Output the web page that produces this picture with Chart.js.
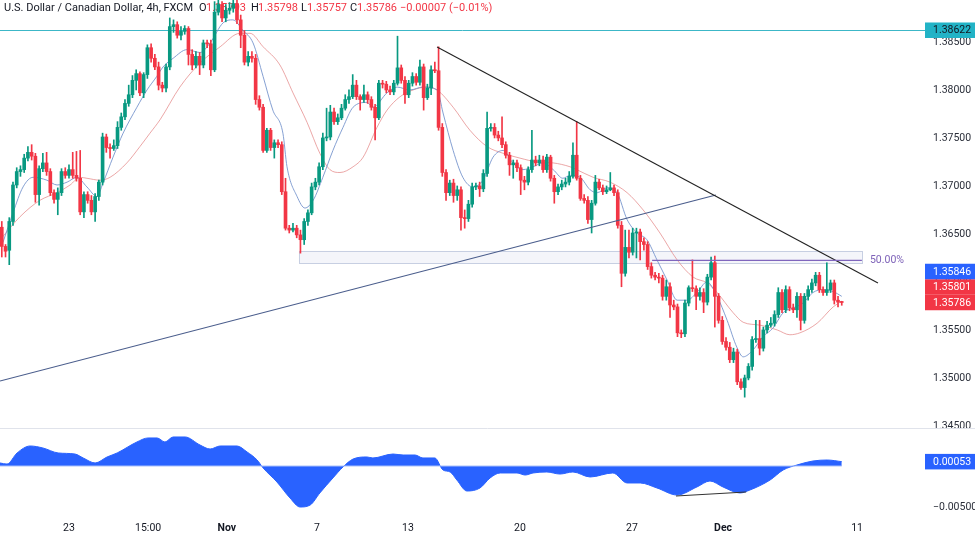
<!DOCTYPE html>
<html>
<head>
<meta charset="utf-8">
<script src="https://cdn.jsdelivr.net/npm/chart.js@4.4.1/dist/chart.umd.min.js"></script>
<style>
  html, body { margin: 0; padding: 0; background: #fff; }
  #wrap { position: relative; width: 975px; height: 534px; }
</style>
</head>
<body>
<div id="wrap"><canvas id="chart" width="975" height="534"></canvas></div>
<script>
// USDCAD 4h candles, index 0 = first visible bar (Oct 20)
const opens = [
  1.3657,1.3637,1.3633,1.3663,1.3701,1.3715,1.3717,1.3729,1.3735,1.3731,
  1.3691,1.3718,1.3724,1.3715,1.3693,1.3686,1.3693,1.3715,1.3711,1.3717,
  1.3711,1.3708,1.3673,1.3691,1.3685,1.3673,1.3689,1.3704,1.3751,1.3740,
  1.3739,1.3742,1.3761,1.3772,1.3786,1.3795,1.3810,1.3817,1.3797,1.3816,
  1.3844,1.3833,1.3824,1.3805,1.3802,1.3824,1.3866,1.3868,1.3857,1.3861,
  1.3864,1.3837,1.3826,1.3835,1.3826,1.3849,1.3848,1.3821,1.3881,1.3889,
  1.3875,1.3883,1.3885,1.3890,1.3873,1.3857,1.3829,1.3835,1.3833,1.3790,
  1.3782,1.3737,1.3758,1.3740,1.3745,1.3743,1.3694,1.3656,1.3654,1.3656,
  1.3649,1.3644,1.3663,1.3672,1.3699,1.3704,1.3720,1.3750,1.3751,1.3777,
  1.3767,1.3771,1.3781,1.3790,1.3793,1.3805,1.3793,1.3790,1.3795,1.3790,
  1.3782,1.3771,1.3807,1.3806,1.3800,1.3798,1.3807,1.3823,1.3810,1.3795,
  1.3807,1.3814,1.3808,1.3824,1.3792,1.3802,1.3821,1.3820,1.3761,1.3714,
  1.3693,1.3703,1.3690,1.3696,1.3667,1.3666,1.3681,1.3699,1.3700,1.3697,
  1.3713,1.3760,1.3761,1.3753,1.3750,1.3743,1.3732,1.3722,1.3724,1.3719,
  1.3706,1.3704,1.3717,1.3727,1.3724,1.3727,1.3717,1.3730,1.3708,1.3694,
  1.3699,1.3702,1.3704,1.3710,1.3732,1.3708,1.3687,1.3685,1.3665,1.3682,
  1.3704,1.3698,1.3694,1.3696,1.3698,1.3693,1.3659,1.3609,1.3636,1.3631,
  1.3651,1.3652,1.3642,1.3639,1.3616,1.3607,1.3605,1.3604,1.3585,1.3595,
  1.3576,1.3574,1.3547,1.3546,1.3578,1.3594,1.3593,1.3585,1.3589,1.3579,
  1.3605,1.3620,1.3585,1.3560,1.3538,1.3532,1.3519,1.3527,1.3496,1.3490,
  1.3500,1.3512,1.3540,1.3541,1.3531,1.3550,1.3555,1.3557,1.3566,1.3589,
  1.3571,1.3592,1.3573,1.3571,1.3585,1.3560,1.3585,1.3592,1.3599,1.3607,
  1.3592,1.3589,1.3592,1.3599,1.3581,1.35793
];
const highs = [
  1.3663,1.3639,1.3667,1.3704,1.3719,1.3721,1.3733,1.3741,1.3743,1.3734,
  1.3721,1.3734,1.3735,1.3718,1.3696,1.3698,1.3718,1.3719,1.3722,1.3735,
  1.3736,1.3737,1.3694,1.3694,1.3690,1.3692,1.3706,1.3755,1.3754,1.3744,
  1.3748,1.3767,1.3776,1.3790,1.3805,1.3815,1.3821,1.3819,1.3818,1.3847,
  1.3848,1.3837,1.3829,1.3808,1.3827,1.3875,1.3873,1.3871,1.3866,1.3867,
  1.3866,1.3842,1.3840,1.3839,1.3852,1.3852,1.3852,1.3892,1.3894,1.3892,
  1.3889,1.3891,1.3896,1.3894,1.3878,1.3862,1.3840,1.3840,1.3837,1.3794,
  1.3785,1.3760,1.3760,1.3748,1.3748,1.3746,1.3708,1.3659,1.3661,1.3659,
  1.3654,1.3666,1.3675,1.3703,1.3708,1.3724,1.3755,1.3781,1.3784,1.3781,
  1.3775,1.3785,1.3795,1.3800,1.3816,1.3810,1.3795,1.3805,1.3798,1.3793,
  1.3785,1.3810,1.3810,1.3809,1.3804,1.3810,1.3856,1.3826,1.3814,1.3810,
  1.3818,1.3817,1.3831,1.3827,1.3806,1.3825,1.3829,1.3845,1.3765,1.3717,
  1.3706,1.3707,1.3700,1.3699,1.3675,1.3685,1.3703,1.3703,1.3704,1.3717,
  1.3777,1.3765,1.3765,1.3757,1.3772,1.3746,1.3735,1.3727,1.3727,1.3722,
  1.3710,1.3720,1.3758,1.3731,1.3732,1.3731,1.3733,1.3732,1.3711,1.3702,
  1.3706,1.3708,1.3715,1.3745,1.3767,1.3711,1.3691,1.3689,1.3685,1.3711,
  1.3707,1.3701,1.3700,1.3714,1.3701,1.3696,1.3663,1.3654,1.3654,1.3656,
  1.3656,1.3655,1.3646,1.3642,1.3620,1.3610,1.3609,1.3607,1.3602,1.3599,
  1.3581,1.3577,1.3550,1.3581,1.3596,1.3623,1.3596,1.3594,1.3593,1.3608,
  1.3626,1.3627,1.3588,1.3564,1.3542,1.3537,1.3531,1.3530,1.3499,1.3503,
  1.3515,1.3543,1.3560,1.3560,1.3553,1.3559,1.3563,1.3570,1.3594,1.3592,
  1.3596,1.3595,1.3577,1.3589,1.3588,1.3588,1.3596,1.3603,1.3610,1.3610,
  1.3595,1.3620,1.3602,1.3602,1.3585,1.35798
];
const lows = [
  1.3626,1.3626,1.3618,1.3659,1.3698,1.3710,1.3714,1.3726,1.3727,1.3683,
  1.3680,1.3715,1.3711,1.3690,1.3682,1.3670,1.3690,1.3708,1.3708,1.3708,
  1.3705,1.3670,1.3667,1.3682,1.3670,1.3663,1.3685,1.3701,1.3735,1.3729,
  1.3737,1.3739,1.3758,1.3769,1.3783,1.3792,1.3800,1.3794,1.3792,1.3812,
  1.3829,1.3821,1.3800,1.3798,1.3798,1.3821,1.3860,1.3854,1.3852,1.3858,
  1.3826,1.3821,1.3823,1.3816,1.3823,1.3844,1.3815,1.3819,1.3878,1.3871,
  1.3871,1.3879,1.3881,1.3869,1.3844,1.3826,1.3825,1.3829,1.3785,1.3779,
  1.3735,1.3735,1.3737,1.3729,1.3740,1.3691,1.3654,1.3651,1.3652,1.3646,
  1.3630,1.3639,1.3659,1.3670,1.3696,1.3701,1.3717,1.3747,1.3748,1.3764,
  1.3764,1.3769,1.3779,1.3786,1.3791,1.3790,1.3779,1.3787,1.3786,1.3779,
  1.3748,1.3769,1.3802,1.3797,1.3795,1.3795,1.3805,1.3807,1.3786,1.3792,
  1.3804,1.3805,1.3805,1.3779,1.3790,1.3795,1.3818,1.3758,1.3710,1.3685,
  1.3690,1.3683,1.3685,1.3654,1.3656,1.3663,1.3678,1.3696,1.3689,1.3694,
  1.3710,1.3757,1.3750,1.3747,1.3740,1.3729,1.3711,1.3708,1.3715,1.3691,
  1.3696,1.3701,1.3714,1.3721,1.3721,1.3714,1.3714,1.3705,1.3682,1.3691,
  1.3696,1.3699,1.3701,1.3708,1.3706,1.3685,1.3682,1.3661,1.3651,1.3680,
  1.3696,1.3691,1.3692,1.3695,1.3690,1.3656,1.3595,1.3606,1.3625,1.3628,
  1.3625,1.3623,1.3633,1.3613,1.3604,1.3602,1.3599,1.3581,1.3581,1.3563,
  1.3571,1.3543,1.3542,1.3543,1.3575,1.3590,1.3571,1.3581,1.3568,1.3576,
  1.3602,1.3553,1.3557,1.3535,1.3529,1.3516,1.3516,1.3493,1.3488,1.3480,
  1.3498,1.3508,1.3537,1.3524,1.3528,1.3547,1.3553,1.3554,1.3563,1.3568,
  1.3568,1.3570,1.3568,1.3563,1.3550,1.3557,1.3581,1.3589,1.3596,1.3589,
  1.3586,1.3586,1.3589,1.3577,1.3574,1.35757
];
const closes = [
  1.3637,1.3632,1.3663,1.3701,1.3715,1.3717,1.3729,1.3735,1.3731,1.3691,
  1.3718,1.3724,1.3715,1.3693,1.3686,1.3693,1.3715,1.3711,1.3717,1.3711,
  1.3708,1.3673,1.3691,1.3685,1.3673,1.3689,1.3704,1.3751,1.3740,1.3739,
  1.3742,1.3761,1.3772,1.3786,1.3795,1.3810,1.3817,1.3797,1.3816,1.3844,
  1.3833,1.3824,1.3805,1.3802,1.3824,1.3866,1.3868,1.3857,1.3861,1.3864,
  1.3837,1.3826,1.3835,1.3826,1.3849,1.3848,1.3821,1.3881,1.3889,1.3875,
  1.3883,1.3885,1.3890,1.3873,1.3857,1.3829,1.3835,1.3833,1.3790,1.3782,
  1.3737,1.3758,1.3740,1.3745,1.3743,1.3694,1.3656,1.3654,1.3656,1.3649,
  1.3644,1.3663,1.3672,1.3699,1.3704,1.3720,1.3750,1.3751,1.3777,1.3767,
  1.3771,1.3781,1.3790,1.3793,1.3805,1.3793,1.3790,1.3795,1.3790,1.3782,
  1.3771,1.3807,1.3806,1.3800,1.3798,1.3807,1.3823,1.3810,1.3795,1.3807,
  1.3814,1.3808,1.3824,1.3792,1.3802,1.3821,1.3820,1.3761,1.3714,1.3693,
  1.3703,1.3690,1.3696,1.3667,1.3666,1.3681,1.3699,1.3700,1.3697,1.3713,
  1.3760,1.3761,1.3753,1.3750,1.3743,1.3732,1.3722,1.3724,1.3719,1.3706,
  1.3704,1.3717,1.3727,1.3724,1.3727,1.3717,1.3730,1.3708,1.3694,1.3699,
  1.3702,1.3704,1.3710,1.3732,1.3708,1.3687,1.3685,1.3665,1.3682,1.3704,
  1.3698,1.3694,1.3696,1.3698,1.3693,1.3659,1.3609,1.3636,1.3631,1.3651,
  1.3652,1.3642,1.3639,1.3616,1.3607,1.3605,1.3604,1.3585,1.3595,1.3576,
  1.3574,1.3547,1.3546,1.3578,1.3594,1.3593,1.3585,1.3589,1.3579,1.3605,
  1.3620,1.3585,1.3560,1.3538,1.3532,1.3519,1.3527,1.3496,1.3490,1.3500,
  1.3512,1.3540,1.3541,1.3531,1.3550,1.3555,1.3557,1.3566,1.3589,1.3571,
  1.3592,1.3573,1.3571,1.3585,1.3560,1.3585,1.3592,1.3599,1.3607,1.3592,
  1.3589,1.3592,1.3599,1.3581,1.3579,1.35786
];

// moving averages (fast = blue, slow = pink), sampled along the lines
const fastMaIdx = [0.3,3.0,5.7,8.4,12.1,14.8,17.5,20.1,22.8,25.5,27.1,29.8,32.5,36.2,38.9,41.5,43.2,45.9,49.6,53.1,55.8,59.3,61.9,64.6,67.3,70,72.6,75.3,76.4,79.1,81.2,83.4,86.0,88.7,91.4,94.1,97.8,99.4,103.2,105.9,109.3,112.8,116.6,118.2,120.9,123.5,126.2,128.9,131.6,134.3,136.9,139.6,142.3,145.0,147.7,150.3,152.2,154.9,157.6,159.5,162.1,164.8,167.5,170.2,172.8,175.5,178.2,180.9,183.6,186.2,188.9,191.6,194.3,196.9,198.6,201.2,203.9,206.6,209.3,212.0,214.6,217.3,220.0,222.7,225];
const fastMaVal = [1.3641,1.3672,1.3699,1.3709,1.3706,1.3701,1.3704,1.3709,1.3699,1.3689,1.3703,1.3730,1.3755,1.3782,1.3800,1.3814,1.3824,1.3833,1.3842,1.3839,1.3849,1.3870,1.3873,1.3862,1.3849,1.3814,1.3779,1.3755,1.3720,1.3689,1.3677,1.3685,1.3709,1.3737,1.3761,1.3782,1.3787,1.3782,1.3797,1.3803,1.3800,1.3803,1.3800,1.3776,1.3737,1.3709,1.3699,1.3706,1.3730,1.3737,1.3724,1.3717,1.3720,1.3724,1.3717,1.3708,1.3711,1.3709,1.3696,1.3693,1.3698,1.3693,1.3665,1.3651,1.3644,1.3623,1.3602,1.3581,1.3581,1.3589,1.3600,1.3585,1.3560,1.3532,1.3522,1.3529,1.3543,1.3552,1.3568,1.3573,1.3578,1.3589,1.3592,1.3590,1.3585];
const slowMaIdx = [0,4.9,10.2,14.8,18.3,20.9,22.8,26.3,29,33.5,37,39.7,42.4,47.7,53.1,58.5,63.8,66.5,70,74.5,78,81.8,85.2,87.9,90.6,94.1,96.8,100.5,103.2,106.7,110.2,113.9,116.6,120.9,125.4,130,134.3,138.8,143.4,147.7,152.2,154,158.4,162.9,167.5,171.8,176.3,180.9,185.2,188.9,191.6,195.9,198.6,203.1,207.7,211.1,213.8,218.4,222.7,225];
const slowMaVal = [1.3646,1.3668,1.3685,1.3693,1.3701,1.3709,1.3708,1.3706,1.3709,1.3724,1.3741,1.3755,1.3769,1.3803,1.3828,1.3845,1.3859,1.3859,1.3845,1.3826,1.3797,1.3766,1.3734,1.3717,1.3714,1.3720,1.3730,1.3761,1.3779,1.3793,1.3800,1.3803,1.3800,1.3782,1.3758,1.3741,1.3734,1.3729,1.3725,1.3724,1.3720,1.3717,1.3709,1.3704,1.3693,1.3675,1.3651,1.3623,1.3605,1.3599,1.3589,1.3568,1.3558,1.3555,1.3550,1.3545,1.3547,1.3557,1.3574,1.3580];

// lower panel oscillator
const oscIdx = [-0.5,1.4,4.1,7.6,11.0,15.1,19.6,21.8,25.0,28.2,30.9,36.2,39.2,41.6,43.7,45.9,49.1,53.1,55.8,58.5,63.0,65.7,68.4,70.0,73.7,77.2,79.9,82.6,85.2,88.7,91.4,94.1,97.8,99.4,104.8,107.5,110.7,112.8,116.0,118.2,120.1,121.9,124.6,128.1,130.8,133.5,138.0,140.2,142.3,146.0,149.5,153.0,157.6,163.7,167.5,171.0,175.5,180.9,186.2,189.7,193.2,197.7,200.4,205.8,209.3,213.0,217.3,221.1,225];
const oscVal = [0.00037,0.00024,0.00159,0.00244,0.00220,0.00159,0.00146,0.00098,0.00037,0.00110,0.00159,0.00293,0.00342,0.00342,0.00293,0.00354,0.00354,0.00256,0.00207,0.00244,0.00244,0.00171,0.00073,-0.00024,-0.00195,-0.00390,-0.00500,-0.00476,-0.00329,-0.00146,-0.00012,0.00085,0.00110,0.00098,0.00146,0.00134,0.00134,0.00098,0.00098,-0.00049,-0.00073,-0.00171,-0.00305,-0.00268,-0.00146,-0.00085,-0.00085,-0.00110,-0.00085,-0.00073,-0.00098,-0.00073,-0.00134,-0.00085,-0.00207,-0.00207,-0.00268,-0.00354,-0.00256,-0.00183,-0.00256,-0.00329,-0.00293,-0.00171,-0.00049,0.00012,0.00061,0.00073,0.00053];

// axes
const xTickPos = [18, 39.2, 60.3, 84.4, 108.8, 138.8, 168.8, 193.2, 229.1];
const xTickLabels = ['23', '15:00', 'Nov', '7', '13', '20', '27', 'Dec', '11'];
const priceTicks = [1.345, 1.35, 1.355, 1.36, 1.365, 1.37, 1.375, 1.38, 1.385];
const oscTicks = [-0.005, 0];

// drawings
const hLinePrice = 1.38622;
const fibBox = [79.6, 230.4, 1.36323, 1.36198];   // x0, x1, top, bottom
const fibLine = [174.2, 230.4, 1.36224];
const downTrend = [116.6, 1.38448, 234.7, 1.35989];
const upTrend = [-0.48, 1.34968, 191.3, 1.36906];
const oscDivLine = [180.6, -0.00366, 199.4, -0.00317];
const tagValues = [1.38622, 1.35846, 1.35801, 1.35786];
const tagColors = ['#22b3c6', '#2962ff', '#f23645', '#f23645'];
const tagText = ['#131722', '#fff', '#fff', '#fff'];
const oscTag = 0.00053;

const upColor = '#089981', downColor = '#f23645';
const FONT = 'Roboto';
Chart.defaults.font.family = FONT;
Chart.defaults.font.size = 10.5;
Chart.defaults.color = '#2a2e39';

const idx = closes.map((c, i) => i);
const colors = closes.map((c, i) => c >= opens[i] ? upColor : downColor);
const pts = (xs, ys) => xs.map((x, i) => ({ x: x, y: ys[i] }));
const fmt = v => (v < 0 ? '\u2212' : '') + Math.abs(v).toFixed(5);

const overlay = {
    id: 'overlay',
    beforeDatasetsDraw(chart) {
        const { ctx, scales: { x, y } } = chart;
        ctx.save();
        // header
        ctx.font = '11px ' + FONT;
        ctx.textBaseline = 'middle';
        const n = closes.length - 1;
        const chg = closes[n] - opens[n];
        const pct = Math.abs(chg / opens[n] * 100).toFixed(2);
        const parts = [
            [4, 'U.S. Dollar / Canadian Dollar, 4h, FXCM', '#131722'],
            [199, 'O', '#131722'], [206, opens[n].toFixed(5), '#f23645'],
            [251, 'H', '#131722'], [258, highs[n].toFixed(5), '#f23645'],
            [301, 'L', '#131722'], [307, lows[n].toFixed(5), '#f23645'],
            [350, 'C', '#131722'], [357, closes[n].toFixed(5), '#f23645'],
            [400, fmt(chg) + ' (' + (chg < 0 ? '\u2212' : '') + pct + '%)', '#f23645']
        ];
        parts.forEach(p => { ctx.fillStyle = p[2]; ctx.fillText(p[1], p[0], 8); });

        // horizontal line
        const hy = Math.round(y.getPixelForValue(hLinePrice)) + 0.5;
        ctx.strokeStyle = '#3cb7c7'; ctx.lineWidth = 1;
        ctx.beginPath(); ctx.moveTo(0, hy); ctx.lineTo(x.right, hy); ctx.stroke();

        // fib zone
        const bx0 = x.getPixelForValue(fibBox[0]), bx1 = x.getPixelForValue(fibBox[1]);
        const by0 = y.getPixelForValue(fibBox[2]), by1 = y.getPixelForValue(fibBox[3]);
        ctx.fillStyle = 'rgba(178,190,222,0.15)';
        ctx.fillRect(bx0, by0, bx1 - bx0, by1 - by0);
        ctx.strokeStyle = '#c7cfe2';
        ctx.strokeRect(Math.round(bx0) + 0.5, Math.round(by0) + 0.5, Math.round(bx1 - bx0), Math.round(by1 - by0));
        ctx.restore();
    },
    afterDatasetsDraw(chart) {
        const { ctx, scales: { x, y, y2 } } = chart;
        ctx.save();
        const seg = (a, b, c, d, sc, col, w) => {
            ctx.strokeStyle = col; ctx.lineWidth = w;
            ctx.beginPath();
            ctx.moveTo(x.getPixelForValue(a), sc.getPixelForValue(b));
            ctx.lineTo(x.getPixelForValue(c), sc.getPixelForValue(d));
            ctx.stroke();
        };
        seg(upTrend[0], upTrend[1], upTrend[2], upTrend[3], y, '#4a5d8c', 1.2);
        seg(downTrend[0], downTrend[1], downTrend[2], downTrend[3], y, '#222222', 1.1);
        seg(fibLine[0], fibLine[2], fibLine[1], fibLine[2], y, '#8066bd', 1.3);
        seg(oscDivLine[0], oscDivLine[1], oscDivLine[2], oscDivLine[3], y2, '#333333', 1);
        ctx.font = '10.5px ' + FONT;
        ctx.fillStyle = '#7e62b8';
        ctx.textBaseline = 'middle';
        ctx.fillText('50.00%', x.getPixelForValue(fibBox[1]) + 8, y.getPixelForValue(fibLine[2]));
        ctx.restore();
    },
    afterDraw(chart) {
        const { ctx, scales: { x, y, y2 } } = chart;
        const W = chart.width;
        ctx.save();
        // clip the lowest price label at the panel border
        const sepY = y.bottom;
        ctx.fillStyle = '#fff';
        ctx.fillRect(x.right, sepY, W - x.right, 16);
        ctx.strokeStyle = '#e0e3eb'; ctx.lineWidth = 1;
        ctx.beginPath(); ctx.moveTo(0, Math.round(sepY) + 0.5); ctx.lineTo(W, Math.round(sepY) + 0.5); ctx.stroke();

        // price tags, pushed apart when they overlap
        ctx.font = '10.5px ' + FONT;
        ctx.textBaseline = 'middle';
        const h = 15.5;
        const tags = tagValues.map((v, i) => ({ v: v, i: i, p: y.getPixelForValue(v) }))
            .sort((a, b) => b.p - a.p);
        for (let k = 1; k < tags.length; k++) {
            if (tags[k].p > tags[k - 1].p - h) tags[k].p = tags[k - 1].p - h;
        }
        const tag = (p, text, bg, fg) => {
            ctx.fillStyle = bg;
            ctx.fillRect(x.right, p - h / 2, W - x.right, h);
            ctx.fillStyle = fg;
            ctx.fillText(text, x.right + 8, p + 0.5);
        };
        tags.forEach(t => tag(t.p, t.v.toFixed(5), tagColors[t.i], tagText[t.i]));
        tag(y2.getPixelForValue(oscTag), oscTag.toFixed(5), '#2962ff', '#fff');
        ctx.restore();
    }
};

new Chart(document.getElementById('chart'), {
    type: 'bar',
    data: {
        datasets: [
            {
                type: 'line', data: pts([oscIdx[0], oscIdx[oscIdx.length - 1]], [0, 0]),
                yAxisID: 'y2', borderColor: '#a9c0fb', borderWidth: 1, pointRadius: 0, order: 0
            },
            {
                data: idx.map(i => ({ x: i, y: [opens[i], closes[i]] })),
                backgroundColor: colors, barThickness: 3, minBarLength: 1,
                grouped: false, yAxisID: 'y', order: 1
            },
            {
                data: idx.map(i => ({ x: i, y: [lows[i], highs[i]] })),
                backgroundColor: colors, barThickness: 1,
                grouped: false, yAxisID: 'y', order: 2
            },
            {
                type: 'line', data: pts(fastMaIdx, fastMaVal), yAxisID: 'y',
                borderColor: 'rgba(120,150,205,0.9)', borderWidth: 1, pointRadius: 0,
                cubicInterpolationMode: 'monotone', order: 3
            },
            {
                type: 'line', data: pts(slowMaIdx, slowMaVal), yAxisID: 'y',
                borderColor: 'rgba(226,130,130,0.7)', borderWidth: 1, pointRadius: 0,
                cubicInterpolationMode: 'monotone', order: 4
            },
            {
                type: 'line', data: pts(oscIdx, oscVal), yAxisID: 'y2',
                borderColor: '#2962ff', backgroundColor: '#2962ff', borderWidth: 1,
                pointRadius: 0, fill: 'origin', cubicInterpolationMode: 'monotone', order: 5
            }
        ]
    },
    options: {
        responsive: false,
        animation: false,
        devicePixelRatio: 1,
        layout: { padding: 0 },
        plugins: { legend: { display: false }, tooltip: { enabled: false } },
        scales: {
            x: {
                type: 'linear', min: -0.48, max: 247.3, offset: false,
                grid: { display: false, drawTicks: false }, border: { display: false },
                afterBuildTicks: s => { s.ticks = xTickPos.map(v => ({ value: v })); },
                afterFit: s => { s.height = 19; s.paddingLeft = 0; s.paddingRight = 0; },
                ticks: {
                    autoSkip: false, maxRotation: 0, padding: 7, color: '#131722',
                    callback: (v, i) => xTickLabels[i],
                    font: c => ({ size: 10.5, weight: /[A-Za-z]/.test(xTickLabels[c.index] || '') ? 'bold' : 'normal' })
                }
            },
            y: {
                type: 'linear', position: 'right', stack: 'panes', stackWeight: 428,
                min: 1.38937 - 428 / 9600, max: 1.38937,
                grid: { display: false, drawTicks: false }, border: { display: false },
                afterBuildTicks: s => { s.ticks = priceTicks.map(v => ({ value: v })); },
                afterFit: s => { s.width = 50; s.paddingTop = 0; s.paddingBottom = 0; },
                ticks: { padding: 8, callback: v => v.toFixed(5) }
            },
            y2: {
                type: 'linear', position: 'right', stack: 'panes', stackWeight: 87,
                min: -49 / 8200, max: 38 / 8200,
                grid: { display: false, drawTicks: false }, border: { display: false },
                afterBuildTicks: s => { s.ticks = oscTicks.map(v => ({ value: v })); },
                afterFit: s => { s.width = 50; s.paddingTop = 0; s.paddingBottom = 0; },
                ticks: { padding: 8, callback: v => fmt(v) }
            }
        }
    },
    plugins: [overlay]
});
</script>
</body>
</html>
